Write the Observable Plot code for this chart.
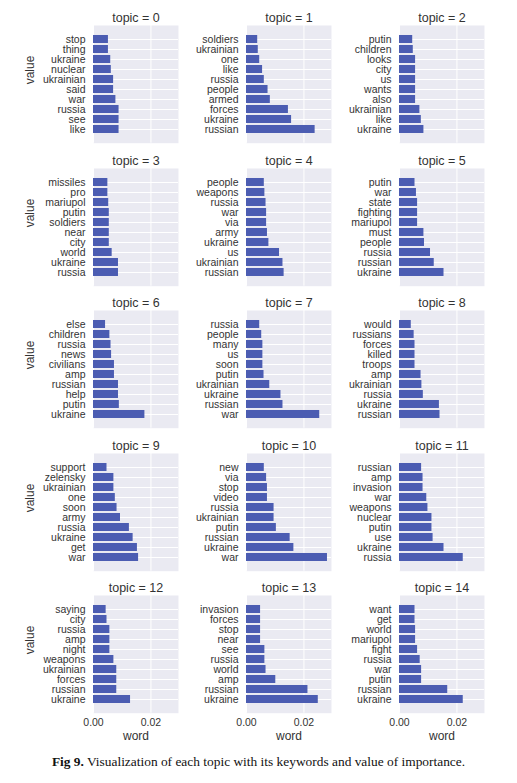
<!DOCTYPE html>
<html><head><meta charset="utf-8">
<script src="https://cdn.jsdelivr.net/npm/d3@7"></script>
<script src="https://cdn.jsdelivr.net/npm/@observablehq/plot@0.6"></script>
<style>
body{margin:0;background:#fff;}
#wrap{position:relative;width:517px;height:783px;overflow:hidden;font-family:"Liberation Sans",Arial,sans-serif;}
.cell{position:absolute;}
#cap{position:absolute;left:0;width:517px;top:754px;text-align:center;font-family:"Liberation Serif","Times New Roman",serif;font-size:13.4px;color:#111;white-space:nowrap;}
</style></head><body>
<div id="wrap"><div id="cap"><b>Fig 9.</b> Visualization of each topic with its keywords and value of importance.</div></div>
<script>
// words listed top to bottom, values (importance) matching
const words0 = ["stop","thing","ukraine","nuclear","ukrainian","said","war","russia","see","like"];
const values0 = [0.0052,0.0052,0.0060,0.0062,0.0070,0.0070,0.0078,0.0089,0.0089,0.0089];
const words1 = ["soldiers","ukrainian","one","like","russia","people","armed","forces","ukraine","russian"];
const values1 = [0.0039,0.0041,0.0046,0.0056,0.0062,0.0075,0.0083,0.0146,0.0157,0.0239];
const words2 = ["putin","children","looks","city","us","wants","also","ukrainian","like","ukraine"];
const values2 = [0.0046,0.0048,0.0056,0.0056,0.0056,0.0056,0.0056,0.0071,0.0076,0.0085];
const words3 = ["missiles","pro","mariupol","putin","soldiers","near","city","world","ukraine","russia"];
const values3 = [0.0050,0.0050,0.0053,0.0055,0.0055,0.0055,0.0055,0.0065,0.0087,0.0087];
const words4 = ["people","weapons","russia","war","via","army","ukraine","us","ukrainian","russian"];
const values4 = [0.0062,0.0064,0.0068,0.0070,0.0070,0.0073,0.0078,0.0115,0.0127,0.0131];
const words5 = ["putin","war","state","fighting","mariupol","must","people","russia","russian","ukraine"];
const values5 = [0.0054,0.0059,0.0063,0.0063,0.0063,0.0085,0.0087,0.0108,0.0121,0.0155];
const words6 = ["else","children","russia","news","civilians","amp","russian","help","putin","ukraine"];
const values6 = [0.0042,0.0057,0.0061,0.0063,0.0073,0.0073,0.0087,0.0087,0.0090,0.0179];
const words7 = ["russia","people","many","us","soon","putin","ukrainian","ukraine","russian","war"];
const values7 = [0.0046,0.0053,0.0057,0.0057,0.0057,0.0061,0.0081,0.0120,0.0127,0.0255];
const words8 = ["would","russians","forces","killed","troops","amp","ukrainian","russia","ukraine","russian"];
const values8 = [0.0041,0.0051,0.0054,0.0054,0.0054,0.0075,0.0078,0.0083,0.0139,0.0141];
const words9 = ["support","zelensky","ukrainian","one","soon","army","russia","ukraine","get","war"];
const values9 = [0.0047,0.0071,0.0071,0.0076,0.0082,0.0094,0.0125,0.0138,0.0153,0.0157];
const words10 = ["new","via","stop","video","russia","ukrainian","putin","russian","ukraine","war"];
const values10 = [0.0062,0.0070,0.0073,0.0073,0.0096,0.0096,0.0104,0.0152,0.0165,0.0282];
const words11 = ["russian","amp","invasion","war","weapons","nuclear","putin","use","ukraine","russia"];
const values11 = [0.0077,0.0082,0.0082,0.0095,0.0099,0.0113,0.0113,0.0117,0.0155,0.0222];
const words12 = ["saying","city","russia","amp","night","weapons","ukrainian","forces","russian","ukraine"];
const values12 = [0.0044,0.0047,0.0057,0.0057,0.0057,0.0071,0.0081,0.0081,0.0081,0.0129];
const words13 = ["invasion","forces","stop","near","see","russia","world","amp","russian","ukraine"];
const values13 = [0.0049,0.0049,0.0049,0.0049,0.0064,0.0064,0.0068,0.0102,0.0214,0.0250];
const words14 = ["want","get","world","mariupol","fight","russia","war","putin","russian","ukraine"];
const values14 = [0.0054,0.0054,0.0056,0.0056,0.0063,0.0072,0.0077,0.0077,0.0168,0.0222];
const xTicks = [0, 0.02];

const topicWords = [words0,words1,words2,words3,words4,words5,words6,words7,words8,words9,words10,words11,words12,words13,words14];
const topicValues = [values0,values1,values2,values3,values4,values5,values6,values7,values8,values9,values10,values11,values12,values13,values14];

const colLefts = [93, 246.3, 398.5];
const rowTops = [25, 167.5, 310, 452.5, 595];
const ML = 80, MR = 6, MT = 24, PW = 85, PH = 117.7;
const textColor = "#333";
const wrap = document.getElementById("wrap");

topicWords.forEach((words, i) => {
  const values = topicValues[i];
  const col = i % 3, row = Math.floor(i / 3);
  const bottom = row === 4;
  const MB = bottom ? 34 : 4;
  const data = words.map((w, k) => ({word: w, value: values[k]}));
  const marks = [
    Plot.frame({fill: "#EAEAF2", stroke: null}),
    Plot.gridX(xTicks, {stroke: "white", strokeOpacity: 1, strokeWidth: 1}),
    Plot.gridY(words, {stroke: "white", strokeOpacity: 1, strokeWidth: 1}),
    Plot.barX(data, {x: "value", y: "word", fill: "#4b5cb2"}),
    Plot.text([`topic = ${i}`], {text: d => d, frameAnchor: "top", lineAnchor: "bottom", dy: -3, fontSize: 12.5, fill: textColor})
  ];
  if (col === 0) marks.push(Plot.text(["value"], {text: d => d, frameAnchor: "left", rotate: -90, dx: -63, fontSize: 12, fill: textColor}));
  if (bottom) marks.push(Plot.text(["word"], {text: d => d, frameAnchor: "bottom", lineAnchor: "middle", dy: 23, fontSize: 12, fill: textColor}));
  const chart = Plot.plot({
    width: ML + PW + MR,
    height: MT + PH + MB,
    marginLeft: ML, marginRight: MR, marginTop: MT, marginBottom: MB,
    style: {background: "transparent", overflow: "visible", fontFamily: "'Liberation Sans', Arial, sans-serif", fontSize: "10.5px", color: textColor},
    x: {domain: [0, 0.0296], axis: bottom ? "bottom" : null, ticks: xTicks, tickFormat: d3.format(".2f"), tickSize: 0, tickPadding: 5, label: null},
    y: {domain: words, paddingInner: 0.2, paddingOuter: 0.49, axis: "left", tickSize: 0, tickPadding: 8, label: null},
    marks
  });
  const cell = document.createElement("div");
  cell.className = "cell";
  cell.style.left = (colLefts[col] - ML) + "px";
  cell.style.top = (rowTops[row] - MT) + "px";
  cell.appendChild(chart);
  wrap.appendChild(cell);
});
</script>
</body></html>
